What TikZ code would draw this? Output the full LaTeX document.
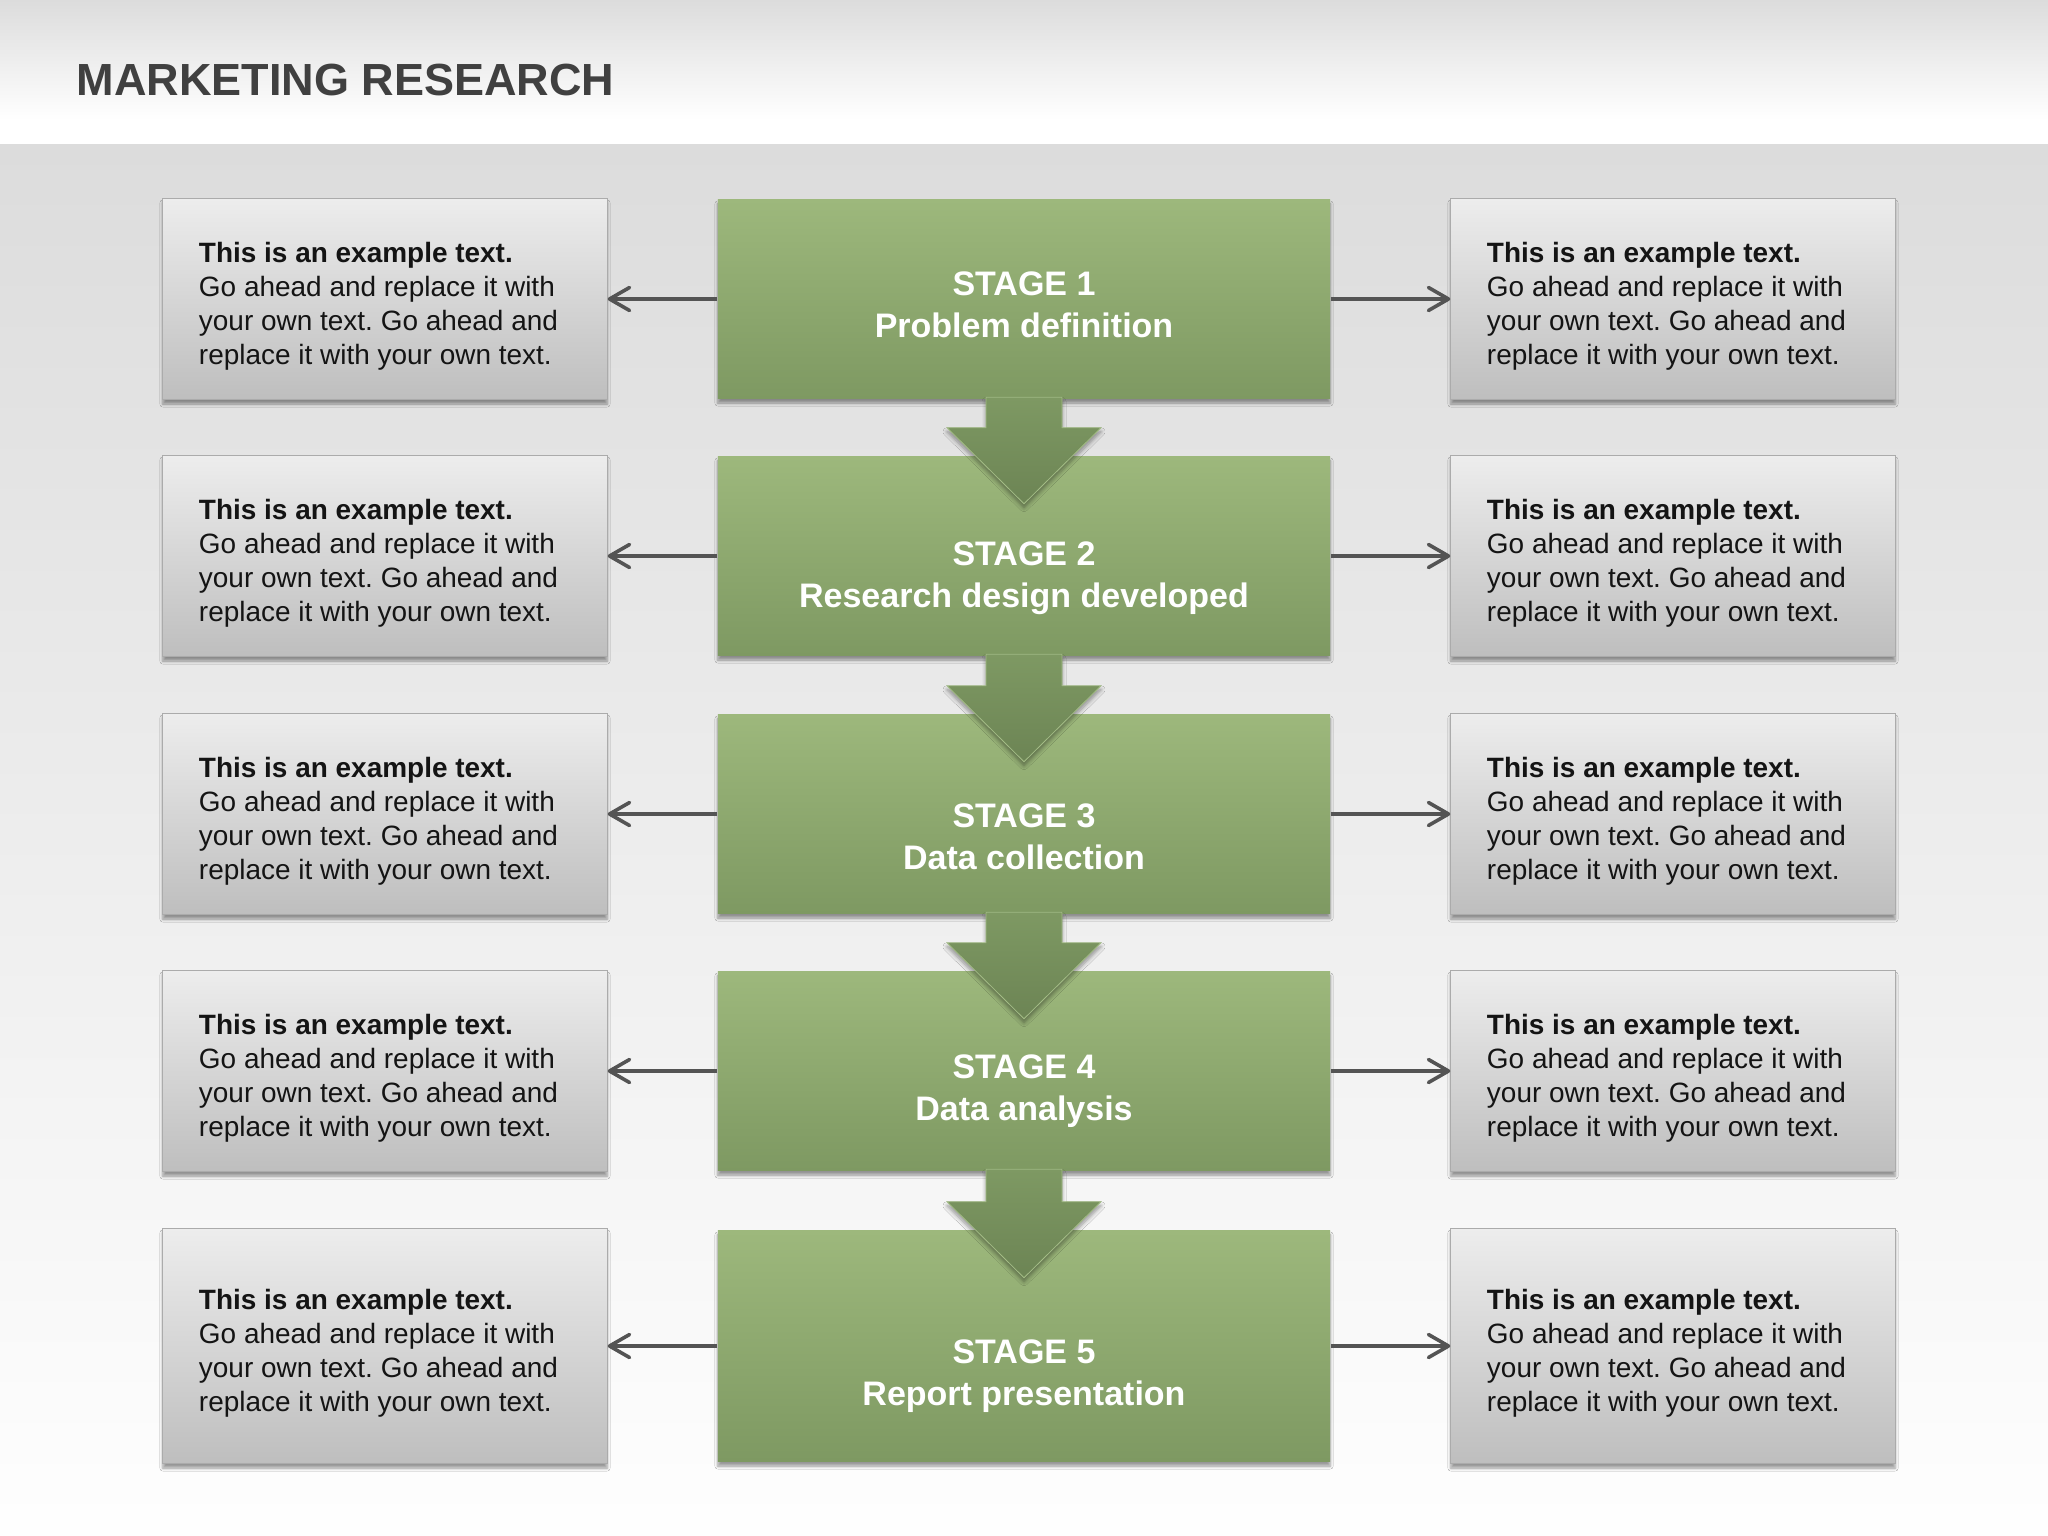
\documentclass[tikz,border=0pt]{standalone}
\usepackage{fontspec}
\setmainfont{Liberation Sans}
\usetikzlibrary{arrows.meta,shadows.blur,calc}
\frenchspacing
\definecolor{greentop}{HTML}{9DB87C}
\definecolor{greenbot}{HTML}{7E9962}
\definecolor{arrtop}{HTML}{7E9963}
\definecolor{arrbot}{HTML}{6C8454}
\definecolor{arredge}{HTML}{A3BC86}
\definecolor{sidetop}{HTML}{EDEDED}
\definecolor{sidebot}{HTML}{BEBEBE}
\definecolor{sideedge}{HTML}{ABABAB}
\definecolor{conncol}{HTML}{545454}
\definecolor{titlecol}{HTML}{404040}
\definecolor{textdark}{HTML}{141414}
\definecolor{bggray}{HTML}{DCDCDC}
\newcommand{\sidefont}{\fontsize{7.95pt}{9.67pt}\selectfont}
\newcommand{\stagefont}{\bfseries\fontsize{9.67pt}{11.95pt}\selectfont}
\newcommand{\exampletext}{\textbf{This is an example text.}\\Go ahead and replace it with\\your own text. Go ahead and\\replace it with your own text.}
\tikzset{
  softshadow/.style={blur shadow={shadow xshift=0cm, shadow yshift=-0.045cm, shadow blur radius=0.03cm, shadow blur steps=5, shadow opacity=40}},
  sidebox/.style={draw=sideedge, line width=0.012cm, top color=sidetop, bottom color=sidebot,
    minimum width=4.44cm, minimum height=2.01cm, softshadow},
  sidetext/.style={anchor=west, align=left, font=\sidefont, text=textdark, inner sep=0pt},
  stagebox/.style={top color=greentop, bottom color=greenbot,
    minimum width=6.12cm, minimum height=1.99cm, softshadow},
  stagetext/.style={text=white, align=center, font=\stagefont, inner sep=0pt},
  tallside/.style={minimum height=2.35cm},
  tallstage/.style={minimum height=2.31cm},
  conn/.style={draw=conncol, line width=0.036cm, -{Straight Barb[length=0.2cm, width=0.23cm, round]}},
  downarrow/.style={top color=arrtop, bottom color=arrbot, draw=arredge, line width=0.008cm,
    blur shadow={shadow xshift=0cm, shadow yshift=-0.04cm, shadow blur radius=0.04cm, shadow blur steps=5, shadow opacity=40}},
}
\begin{document}
\begin{tikzpicture}[x=0.01cm, y=-0.01cm]
\useasboundingbox (0,0) rectangle (2048,1536);
% background
\shade[top color=bggray, bottom color=white] (0,0) rectangle (2048,120);
\fill[white] (0,119) rectangle (2048,144);
\shade[top color=bggray, bottom color=white!98!bggray] (0,144) rectangle (2048,1536);
% title
\node[anchor=base west, inner sep=0pt, text=titlecol, font=\bfseries\fontsize{12.8pt}{14pt}\selectfont] (title) at (76,95) {MARKETING RESEARCH};
% side boxes left
\node[sidebox] (l1) at (385,299) {};
\node[sidebox] (l2) at (385,556) {};
\node[sidebox] (l3) at (385,814) {};
\node[sidebox] (l4) at (385,1071) {};
\node[sidebox, tallside] (l5) at (385,1346) {};
% side boxes right
\node[sidebox] (r1) at (1673,299) {};
\node[sidebox] (r2) at (1673,556) {};
\node[sidebox] (r3) at (1673,814) {};
\node[sidebox] (r4) at (1673,1071) {};
\node[sidebox, tallside] (r5) at (1673,1346) {};
% side texts
\foreach \i in {1,...,5}{
  \node[sidetext] (lt\i) at ($(l\i.west)+(36,7)$) {\exampletext};
  \node[sidetext] (rt\i) at ($(r\i.west)+(36,7)$) {\exampletext};
}
% stage boxes
\node[stagebox] (g1) at (1024,299) {};
\node[stagebox] (g2) at (1024,556) {};
\node[stagebox] (g3) at (1024,814) {};
\node[stagebox] (g4) at (1024,1071) {};
\node[stagebox, tallstage] (g5) at (1024,1346) {};
% down arrows
\foreach \a/\b in {g1/g2,g2/g3,g3/g4,g4/g5}{
  \path[downarrow] ($(\a.south)+(-38,-2)$) -- ($(\a.south)+(38,-2)$)
    -- ($(\b.north)+(38,-28)$) -- ($(\b.north)+(77,-28)$)
    -- ($(\b.north)+(0,48)$) -- ($(\b.north)+(-77,-28)$)
    -- ($(\b.north)+(-38,-28)$) -- cycle;
}
% stage texts
\node[stagetext] (t1) at ($(g1.center)+(0,6)$) {STAGE 1\\Problem definition};
\node[stagetext] (t2) at ($(g2.center)+(0,22)$) {STAGE 2\\Research design developed};
\node[stagetext] (t3) at ($(g3.center)+(0,23)$) {STAGE 3\\Data collection};
\node[stagetext] (t4) at ($(g4.center)+(0,20)$) {STAGE 4\\Data analysis};
\node[stagetext] (t5) at ($(g5.center)+(0,30)$) {STAGE 5\\Report presentation};
% connectors
\foreach \i in {1,...,5}{
  \draw[conn] (g\i.west) -- (l\i.east);
  \draw[conn] (g\i.east) -- (r\i.west);
}
\end{tikzpicture}
\end{document}
